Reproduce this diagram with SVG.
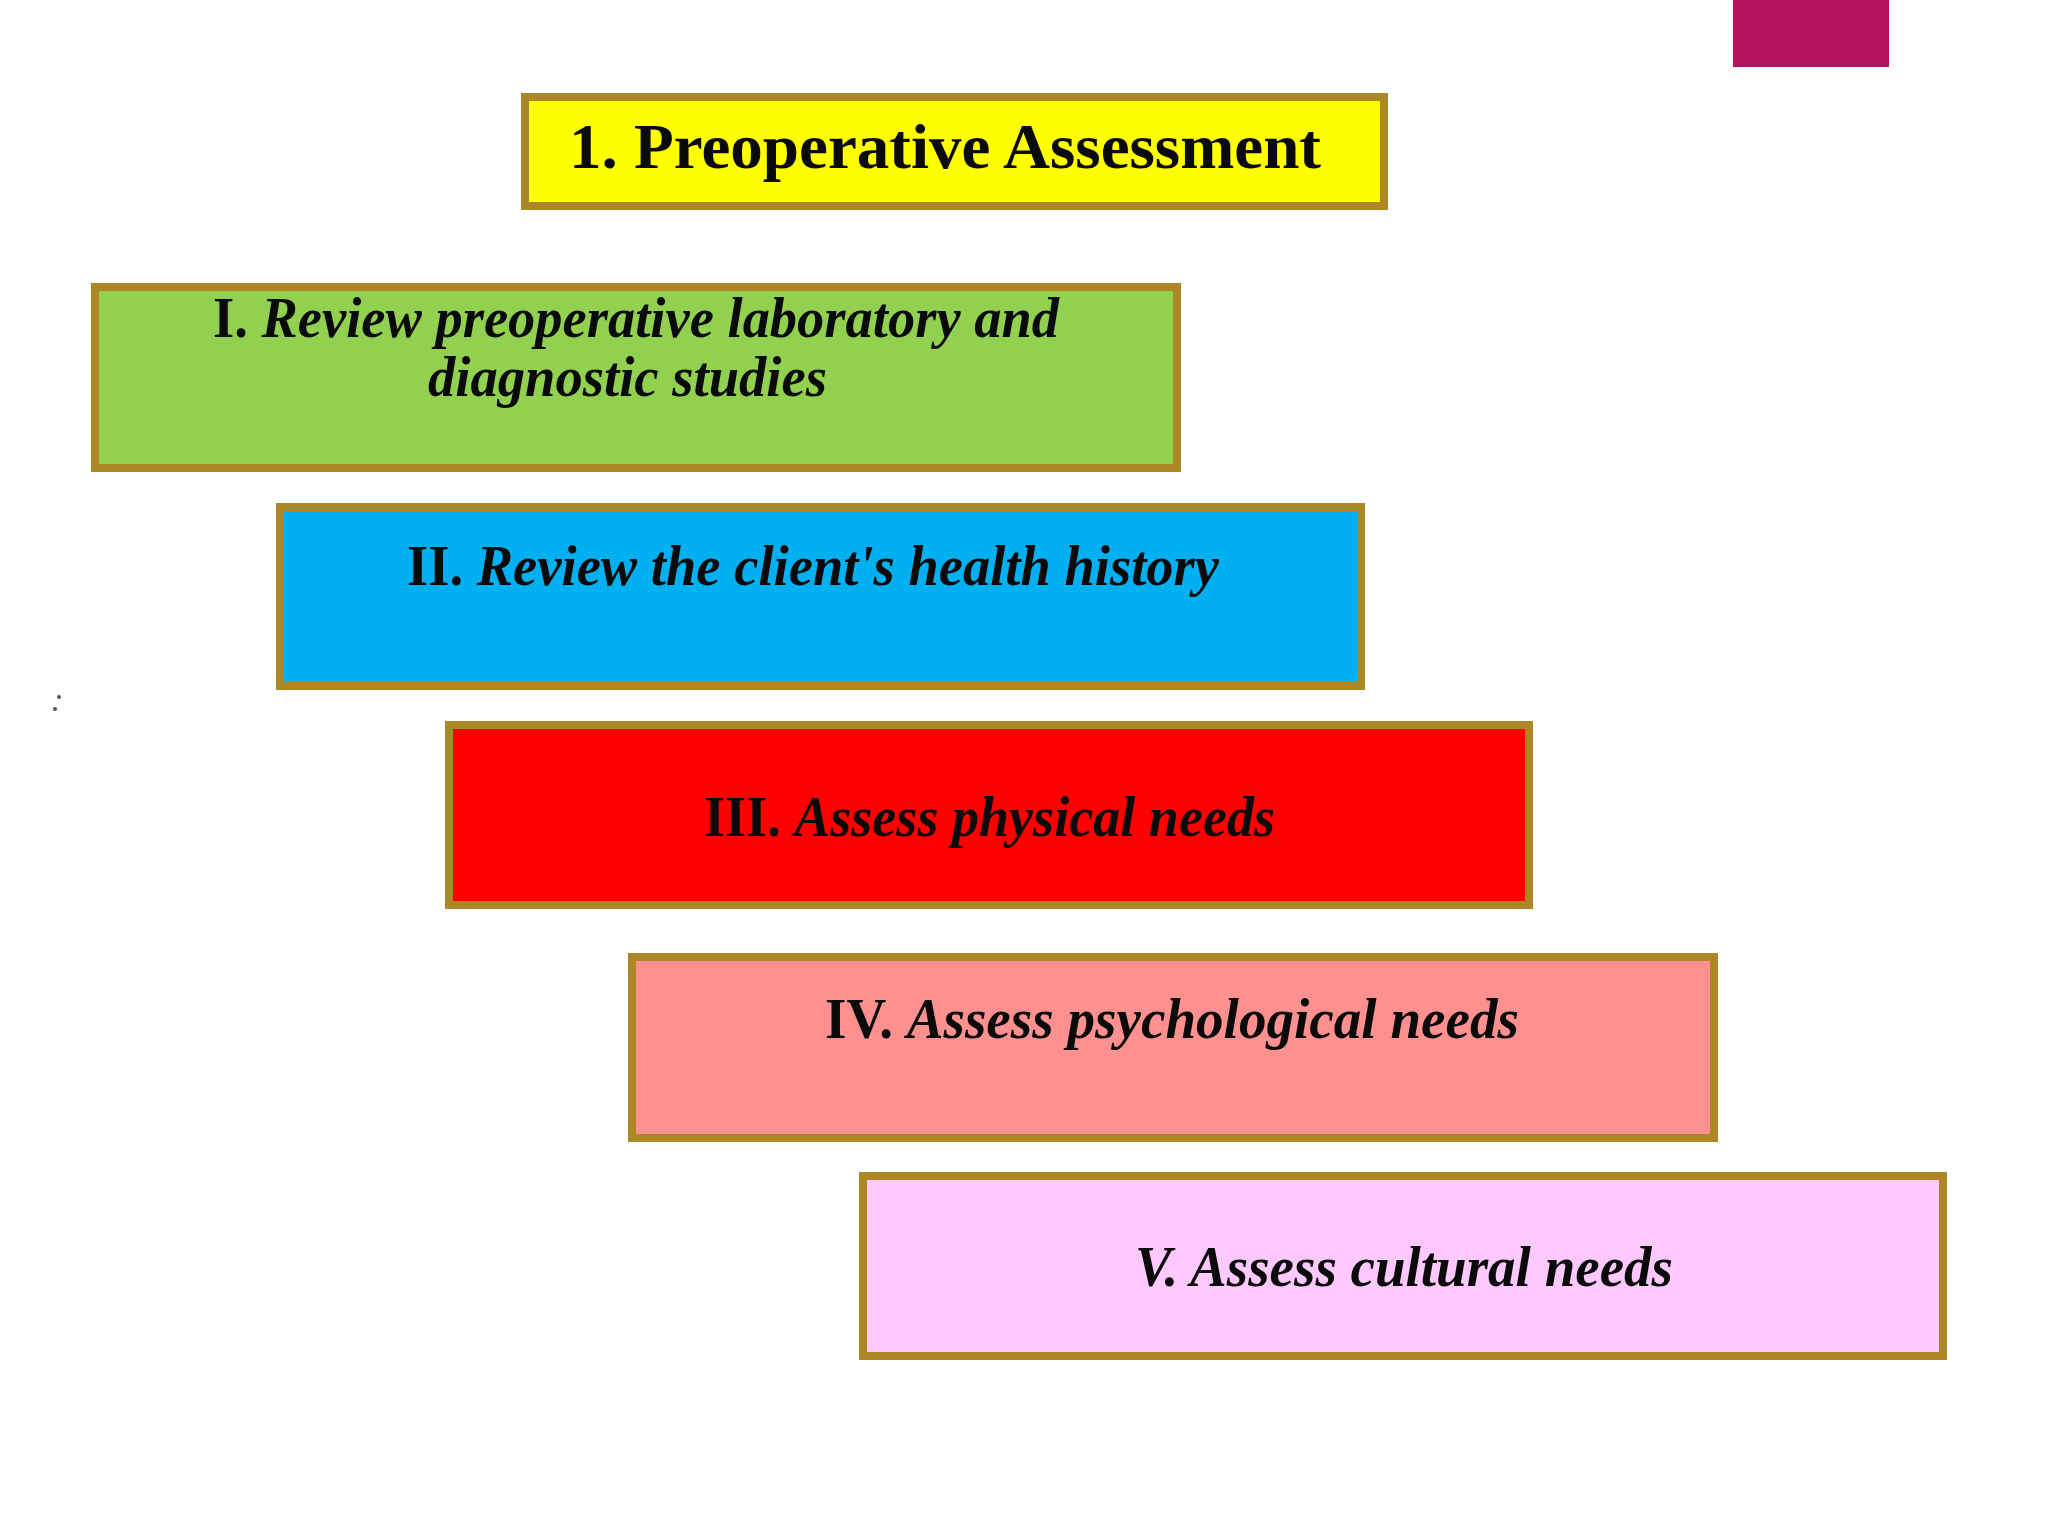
<svg xmlns="http://www.w3.org/2000/svg" width="2048" height="1536" viewBox="0 0 2048 1536">
<style>
.box{stroke:#AD8626;stroke-width:8}
.t{font-family:"Liberation Serif","Times New Roman",serif;font-weight:bold;fill:#0a0a0a}
.i{font-style:italic}
</style>
<rect x="0" y="0" width="2048" height="1536" fill="#ffffff"/>
<rect x="1733" y="0" width="156" height="67" fill="#B5135F"/>
<circle cx="59" cy="697" r="2" fill="#555"/>
<circle cx="55" cy="709" r="2" fill="#555"/>
<g id="title">
<rect class="box" x="525" y="97" width="859" height="109" fill="#FFFF00"/>
<text class="t" x="569" y="168" font-size="64" textLength="752" lengthAdjust="spacingAndGlyphs">1. Preoperative Assessment</text>
</g>
<g id="step1">
<rect class="box" x="95" y="287" width="1082" height="181" fill="#92D050"/>
<text class="t" x="213" y="337" font-size="56" textLength="846" lengthAdjust="spacingAndGlyphs">I. <tspan class="i">Review preoperative laboratory and</tspan></text>
<text class="t i" x="428" y="396" font-size="56" textLength="399" lengthAdjust="spacingAndGlyphs">diagnostic studies</text>
</g>
<g id="step2">
<rect class="box" x="280" y="507" width="1081" height="179" fill="#00B0F0"/>
<text class="t" x="407" y="585" font-size="56" textLength="812" lengthAdjust="spacingAndGlyphs">II. <tspan class="i">Review the client's health history</tspan></text>
</g>
<g id="step3">
<rect class="box" x="449" y="725" width="1080" height="180" fill="#FF0000"/>
<text class="t" x="704" y="836" font-size="56" textLength="571" lengthAdjust="spacingAndGlyphs" fill="#200000">III. <tspan class="i">Assess physical needs</tspan></text>
</g>
<g id="step4">
<rect class="box" x="632" y="957" width="1082" height="181" fill="#FF9090"/>
<text class="t" x="825" y="1038" font-size="56" textLength="694" lengthAdjust="spacingAndGlyphs">IV. <tspan class="i">Assess psychological needs</tspan></text>
</g>
<g id="step5">
<rect class="box" x="863" y="1176" width="1080" height="180" fill="#FFC8FF"/>
<text class="t i" x="1135" y="1286" font-size="56" textLength="538" lengthAdjust="spacingAndGlyphs">V. Assess cultural needs</text>
</g>
<g id="connectors"></g>
</svg>
